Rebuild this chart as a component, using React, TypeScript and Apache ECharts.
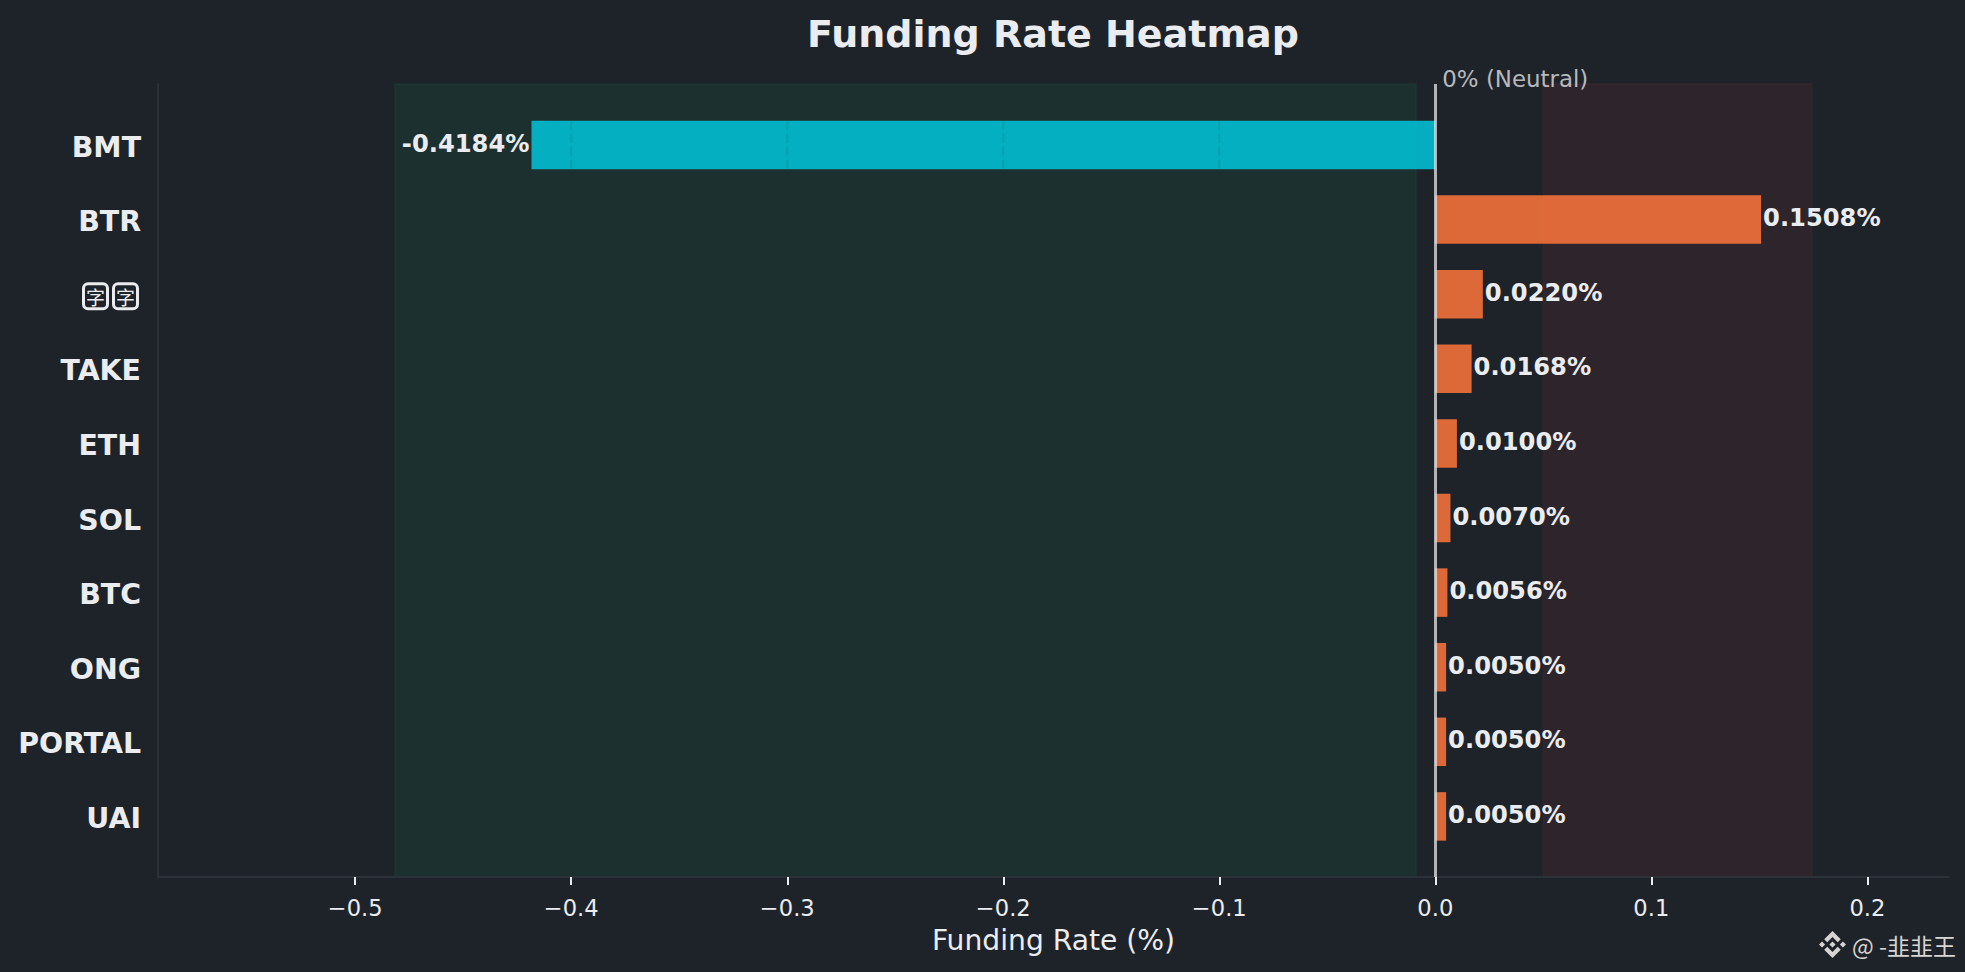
import React, { useEffect, useRef } from "react";
import * as echarts from "echarts";

const categories = ["BMT", "BTR", "字字", "TAKE", "ETH", "SOL", "BTC", "ONG", "PORTAL", "UAI"];
const fundingRates = [-0.4184, 0.1508, 0.022, 0.0168, 0.01, 0.007, 0.0056, 0.005, 0.005, 0.005];
const xTicks = [-0.5, -0.4, -0.3, -0.2, -0.1, 0, 0.1, 0.2];
const barGridValues = [-0.4, -0.3, -0.2, -0.1];
const greenZone = [-0.4817, -0.0088];
const redZone = [0.05, 0.1743];
const neutralValue = [0];
const xRange = [-0.5913, 0.2378];

const BG = "#1e2329";
const TEXT = "#eaecef";
const SPINE = "#2b3139";
const FONT = "DejaVu Sans";
const BAR_WIDTH = 48.5;
const LOGO_D =
  "M16.624 13.9202l2.7175 2.7154-7.353 7.353-7.353-7.352 2.7175-2.7164 4.6355 4.6595 4.6356-4.6595zm4.6366-4.6366L24 12l-2.7154 2.7164L18.5682 12l2.6924-2.7164zm-9.272.001l2.7163 2.6914-2.7164 2.7174v-.001L9.2721 12l2.7164-2.7154zm-9.2722-.001L5.4088 12l-2.6914 2.6924L0 12l2.7164-2.7164zM11.9885.0115l7.353 7.329-2.7174 2.7154-4.6356-4.6356-4.6355 4.6595-2.7174-2.7154 7.353-7.353z";

echarts.graphic.registerShape("logo", echarts.graphic.extendPath(LOGO_D, {}) as any);

export default function App() {
  const ref = useRef<HTMLDivElement>(null);
  useEffect(() => {
    document.body.style.margin = "0";
    document.body.style.background = BG;
    const chart = echarts.init(ref.current!, null, { renderer: "svg" });
    const glyphBox = {
      width: 21,
      height: 22,
      borderColor: TEXT,
      borderWidth: 3,
      borderRadius: 3,
      backgroundColor: BG,
      color: TEXT,
      fontSize: 19,
      fontWeight: "normal",
      align: "center",
      fontFamily: "Noto Sans CJK SC",
    };
    chart.setOption({
      animation: false,
      backgroundColor: BG,
      textStyle: { fontFamily: FONT },
      title: {
        text: "Funding Rate Heatmap",
        left: 1048,
        top: 10,
        textAlign: "center",
        textStyle: { color: TEXT, fontSize: 38, fontWeight: "bold", fontFamily: FONT },
      },
      grid: [
        { left: 158, top: 84, width: 1791, height: 793 },
        { left: 158, top: 107.7, width: 1791, height: 746 },
      ],
      xAxis: [
        {
          gridIndex: 0,
          type: "value",
          min: xRange[0],
          max: xRange[1],
          z: 3,
          axisLine: { show: true, onZero: false, lineStyle: { color: SPINE, width: 2 } },
          axisTick: { show: true, length: 8, customValues: xTicks, lineStyle: { color: TEXT, width: 2 } },
          axisLabel: {
            show: true,
            customValues: xTicks,
            margin: 19,
            color: TEXT,
            fontSize: 22.6,
            fontFamily: FONT,
            formatter: (v: number) => (v < 0 ? "\u2212" : "") + Math.abs(v).toFixed(1),
          },
          splitLine: { show: false },
          name: "Funding Rate (%)",
          nameLocation: "middle",
          nameGap: 49.5,
          nameTextStyle: { color: TEXT, fontSize: 28.2, fontFamily: FONT },
        },
        { gridIndex: 1, type: "value", min: xRange[0], max: xRange[1], show: false },
      ],
      yAxis: [
        {
          gridIndex: 0,
          type: "value",
          min: 0,
          max: 1,
          position: "left",
          axisLine: { show: true, onZero: false, lineStyle: { color: SPINE, width: 2 } },
          axisTick: { show: false },
          axisLabel: { show: false },
          splitLine: { show: false },
        },
        {
          gridIndex: 1,
          type: "category",
          inverse: true,
          data: categories,
          axisLine: { show: false, onZero: false },
          axisTick: { show: false },
          axisLabel: {
            margin: 17,
            padding: [4, 0, 0, 0],
            color: TEXT,
            fontSize: 28.4,
            fontWeight: "bold",
            fontFamily: FONT,
            formatter: (v: string) => (v === "字字" ? "{g|字}{s| }{g|字}{e| }" : v),
            rich: { g: glyphBox, s: { width: 9, fontSize: 4 }, e: { width: 5, fontSize: 4 } },
          },
          splitLine: { show: false },
        },
      ],
      series: [
        {
          type: "line",
          xAxisIndex: 0,
          yAxisIndex: 0,
          data: [],
          z: 1,
          markArea: {
            silent: true,
            z: 1,
            data: [
              [
                {
                  xAxis: greenZone[0],
                  itemStyle: { color: "rgba(14,203,129,0.08)", borderColor: "rgba(14,203,129,0.05)", borderWidth: 2 },
                },
                { xAxis: greenZone[1] },
              ],
              [
                {
                  xAxis: redZone[0],
                  itemStyle: { color: "rgba(246,70,93,0.08)", borderColor: "rgba(246,70,93,0.05)", borderWidth: 2 },
                },
                { xAxis: redZone[1] },
              ],
            ],
          },
        },
        {
          type: "bar",
          xAxisIndex: 1,
          yAxisIndex: 1,
          barWidth: BAR_WIDTH,
          z: 2,
          data: fundingRates.map((v) => ({
            value: v,
            itemStyle: { color: v < 0 ? "rgba(0,198,218,0.85)" : "rgba(255,118,60,0.85)" },
            label: { position: v < 0 ? "left" : "right" },
          })),
          label: {
            show: true,
            distance: 2,
            offset: [0, -1.5],
            color: TEXT,
            fontSize: 24.2,
            fontWeight: "bold",
            fontFamily: FONT,
            formatter: (p: any) => p.value.toFixed(4) + "%",
          },
        },
        {
          type: "custom",
          xAxisIndex: 1,
          yAxisIndex: 1,
          z: 3,
          silent: true,
          data: barGridValues.map((v) => [v, categories[0]]),
          encode: { x: 0, y: 1 },
          renderItem: (_: any, api: any) => {
            const p = api.coord([api.value(0), 0]);
            return {
              type: "line",
              shape: { x1: p[0], y1: p[1] - BAR_WIDTH / 2, x2: p[0], y2: p[1] + BAR_WIDTH / 2 },
              style: { stroke: "rgba(0,110,125,0.22)", lineWidth: 2, lineDash: [9, 4] },
            };
          },
        },
        {
          type: "line",
          xAxisIndex: 0,
          yAxisIndex: 0,
          data: [],
          z: 5,
          markLine: {
            silent: true,
            symbol: "none",
            z: 5,
            lineStyle: { color: "rgba(234,236,239,0.72)", width: 3, type: "solid" },
            label: {
              show: true,
              position: "end",
              formatter: "0% (Neutral)",
              color: "rgba(234,236,239,0.75)",
              fontSize: 22.9,
              fontFamily: FONT,
              align: "left",
              offset: [7, 11],
            },
            data: [{ xAxis: neutralValue[0] }],
          },
        },
      ],
      graphic: [
        {
          type: "logo",
          x: 1819,
          y: 931,
          scaleX: 27 / 24,
          scaleY: 27 / 24,
          style: { fill: "#d8d4d4" },
        },
        {
          type: "text",
          x: 1852,
          y: 945,
          style: {
            text: "@ -韭韭王",
            fill: "#d8d4d4",
            fontSize: 23,
            fontFamily: "Noto Sans CJK SC",
            verticalAlign: "middle",
          },
        },
      ],
    });
    return () => chart.dispose();
  }, []);
  return <div ref={ref} style={{ width: 1965, height: 972 }} />;
}
